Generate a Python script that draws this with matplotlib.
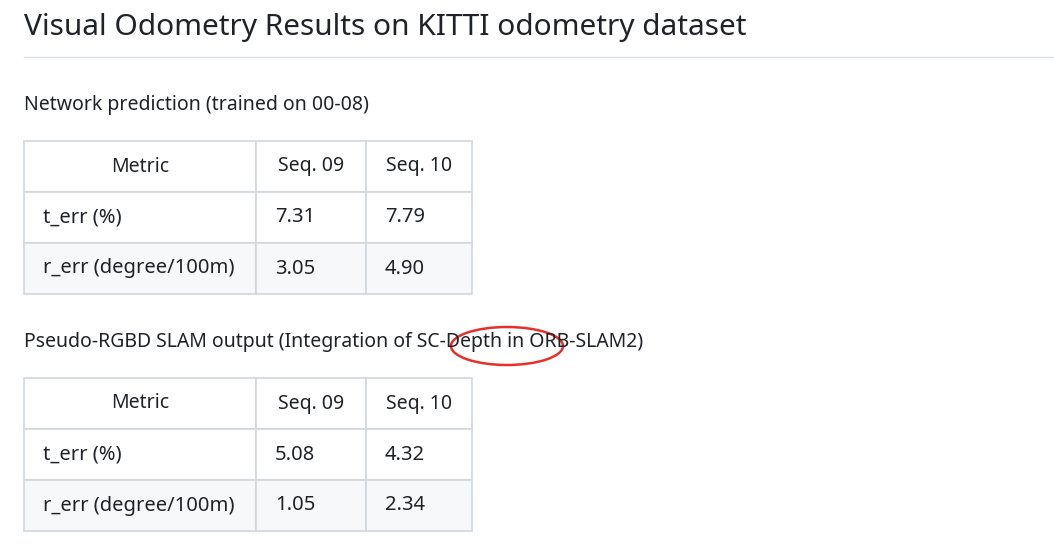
import matplotlib
matplotlib.use("Agg")
import matplotlib.pyplot as plt
from matplotlib.patches import Rectangle, Ellipse

plt.rcParams["font.family"] = ["Noto Sans", "DejaVu Sans"]

title = "Visual Odometry Results on KITTI odometry dataset"
headings = ["Network prediction (trained on 00-08)",
            "Pseudo-RGBD SLAM output (Integration of SC-Depth in ORB-SLAM2)"]
columns = ["Metric", "Seq. 09", "Seq. 10"]
metrics = ["t_err (%)", "r_err (degree/100m)"]
seq09 = [[7.31, 3.05], [5.08, 1.05]]
seq10 = [[7.79, 4.90], [4.32, 2.34]]

W, H = 1054, 557
fig = plt.figure(figsize=(W / 100, H / 100), dpi=100)
ax = fig.add_axes([0, 0, 1, 1])
ax.set_xlim(0, W)
ax.set_ylim(H, 0)
ax.axis("off")

text_c = "#1f2328"
border = "#d0d7de"

ax.text(24, 28, title, fontsize=21.5, fontweight="bold", color=text_c, va="center")
ax.plot([24, W], [57, 57], color="#d8dee4", lw=1)

col_x = [24, 256, 366, 472]
row_h = 51
for k, (head, top) in enumerate(zip(headings, [141, 378])):
    ax.text(24, top - 36, head, fontsize=14, fontweight="bold", color=text_c, va="center")
    rows = [columns] + [[m, f"{a:.2f}", f"{b:.2f}"]
                        for m, a, b in zip(metrics, seq09[k], seq10[k])]
    for r, row in enumerate(rows):
        y0 = top + r * row_h
        bg = "#f6f8fa" if r == 2 else "white"
        for c, cell in enumerate(row):
            ax.add_patch(Rectangle((col_x[c], y0), col_x[c + 1] - col_x[c], row_h,
                                   facecolor=bg, edgecolor=border, lw=1.2))
            if r == 0:
                ax.text((col_x[c] + col_x[c + 1]) / 2, y0 + row_h / 2, cell,
                        fontsize=14, fontweight="bold", color=text_c,
                        ha="center", va="center")
            else:
                ax.text(col_x[c] + 19, y0 + row_h / 2, cell, fontsize=14.5,
                        color=text_c, ha="left", va="center")

ax.add_patch(Ellipse((507, 346), 112, 38, fill=False, edgecolor="#e8302a", lw=1.8))

fig.savefig("out.png", dpi=100)
